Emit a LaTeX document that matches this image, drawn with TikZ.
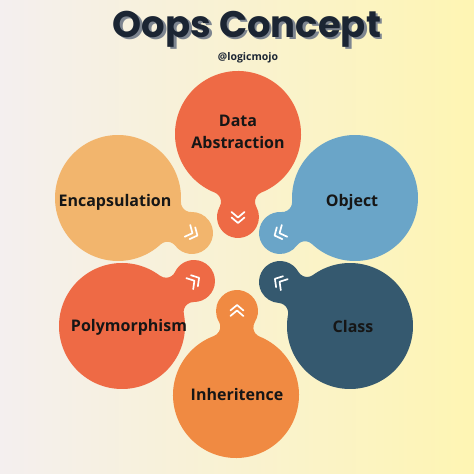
\documentclass[tikz,border=0pt]{standalone}
\usepackage{fontspec}
\setmainfont{Open Sans}
\newfontfamily\titlefont{Poppins}
\definecolor{bgl}{HTML}{F4EFEF}
\definecolor{bgr}{HTML}{FEF5B3}
\definecolor{cred}{HTML}{EE6A45}
\definecolor{cpeach}{HTML}{F2B56D}
\definecolor{cblue}{HTML}{6AA5C8}
\definecolor{cnavy}{HTML}{35596F}
\definecolor{corange}{HTML}{F08A42}
\definecolor{labelc}{HTML}{161616}
\definecolor{titlec}{HTML}{1B2533}
\definecolor{shadowc}{HTML}{7D8590}
\tikzset{
  lbl/.style={font=\bfseries\fontsize{16}{22}\selectfont, text=labelc, align=center},
  chev/.style={draw=white, line width=1.7pt, line cap=round, line join=round},
}
\def\rbig{63}
\def\rsmall{21}
\def\rfil{10}
\newcommand\drawblob[5]{%
  \pgfmathsetmacro\blDX{#3-#1}%
  \pgfmathsetmacro\blDY{#4-#2}%
  \pgfmathsetmacro\blD{veclen(\blDX,\blDY)}%
  \pgfmathsetmacro\blAng{atan2(\blDY,\blDX)}%
  \pgfmathsetmacro\blA{\rbig+\rfil}%
  \pgfmathsetmacro\blB{\rsmall+\rfil}%
  \pgfmathsetmacro\blXF{(\blD*\blD+\blA*\blA-\blB*\blB)/(2*\blD)}%
  \pgfmathsetmacro\blYF{sqrt(\blA*\blA-\blXF*\blXF)}%
  \pgfmathsetmacro\blAone{atan2(\blYF,\blXF)}%
  \pgfmathsetmacro\blAtwo{atan2(\blYF,\blXF-\blD)}%
  \begin{scope}[shift={(#1,#2)}, rotate=\blAng]
    \fill[#5] (\blAone:\rbig)
      arc[start angle=\blAone, end angle=360-\blAone, radius=\rbig]
      arc[start angle=180-\blAone, end angle=180-\blAtwo, radius=\rfil]
      arc[start angle=-\blAtwo, end angle=\blAtwo, radius=\rsmall]
      arc[start angle=\blAtwo-180, end angle=\blAone-180, radius=\rfil]
      -- cycle;
    \draw[chev] (\blD-5,6.5) -- (\blD+0.5,0) -- (\blD-5,-6.5);
    \draw[chev] (\blD+0.5,6.5) -- (\blD+6,0) -- (\blD+0.5,-6.5);
  \end{scope}}
\begin{document}
\begin{tikzpicture}[x=1pt,y=1pt]
\useasboundingbox (0,0) rectangle (474,474);
\shade[left color=bgl, right color=bgr] (0,0) rectangle (474,474);
% blobs
\drawblob{238}{340}{238}{257}{cred}
\drawblob{118}{276}{192}{241}{cpeach}
\drawblob{355}{276}{280}{241}{cblue}
\drawblob{122}{148}{194}{193}{cred}
\drawblob{350}{148}{280}{192}{cnavy}
\drawblob{236}{79}{237}{163}{corange}
% title
\node[font=\titlefont\bfseries\fontsize{37}{40}\selectfont, text=shadowc] at (249.5,442.5) {Oops Concept};
\node (title) [font=\titlefont\bfseries\fontsize{37}{40}\selectfont, text=titlec] at (247,445) {Oops Concept};
\node (sub) [font=\bfseries\fontsize{10.5}{12}\selectfont, text=titlec] at (248,416) {@logicmojo};
% labels
\node (da) [lbl] at (238,342) {Data\\Abstraction};
\node (enc) [lbl] at (115,272) {Encapsulation};
\node (obj) [lbl] at (352,272) {Object};
\node (poly) [lbl] at (129,147) {Polymorphism};
\node (cls) [lbl] at (353,147) {Class};
\node (inh) [lbl] at (237,79) {Inheritence};
\end{tikzpicture}
\end{document}
